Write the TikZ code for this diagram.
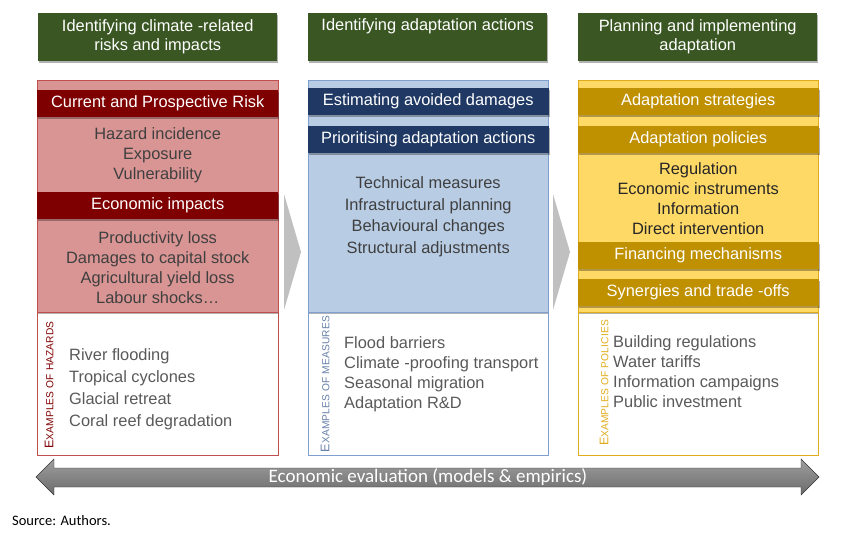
\documentclass[tikz,border=0pt]{standalone}
\usepackage{fontspec}
\setmainfont{Liberation Sans}
\newfontfamily\calfont{Carlito}
\usetikzlibrary{positioning,shadows}

\definecolor{headgreen}{HTML}{3A5723}
\definecolor{redfill}{HTML}{D99594}
\definecolor{redbar}{HTML}{7F0000}
\definecolor{redline}{HTML}{C0504D}
\definecolor{bluefill}{HTML}{B8CCE4}
\definecolor{bluebar}{HTML}{1F3864}
\definecolor{blueline}{HTML}{7F9FD0}
\definecolor{goldfill}{HTML}{FFD966}
\definecolor{goldbar}{HTML}{BF9000}
\definecolor{goldline}{HTML}{E0AC1C}
\definecolor{bodygray}{HTML}{3F3F3F}
\definecolor{examplegray}{HTML}{595959}
\definecolor{chevgray}{HTML}{C0C0C0}

\tikzset{
  soft/.style={drop shadow={shadow xshift=0.8pt, shadow yshift=-1.5pt, opacity=0.3, fill=black}},
  header/.style={fill=headgreen, text=white, minimum width=239pt, minimum height=48pt,
    inner sep=0pt, anchor=north west, align=center, font=\fontsize{16.4}{19}\selectfont, soft},
  bar/.style={text=white, minimum width=241pt, minimum height=27pt, inner sep=0pt,
    anchor=north west, font=\fontsize{16.4}{19}\selectfont, soft},
  body/.style={anchor=north, align=center, inner sep=0pt, text=bodygray},
  example/.style={anchor=north west, align=left, inner sep=0pt, text=examplegray},
  sidelabel/.style={rotate=90, inner sep=0pt}
}

\newcommand{\exlabel}[1]{\addfontfeature{LetterSpace=1.5}{\fontsize{12.5}{13}\selectfont E}{\fontsize{10.2}{13}\selectfont XAMPLES OF #1}}

\begin{document}
\begin{tikzpicture}[x=1pt,y=-1pt]

\useasboundingbox (0,0) rectangle (851,539);

\def \paneltop{80};
\def \panelmid{312};
\def \panelbot{455};

% headers
\node[header] (h1) at (38,13) {Identifying climate -related\\risks and impacts};
\node[header] (h2) at (308,13) {Identifying adaptation actions\\\strut};
\node[header] (h3) at (578,13) {Planning and implementing\\adaptation};

% chevrons
\fill[chevgray] (284,194) -- (301,252) -- (284,310) -- cycle;
\fill[chevgray] (553,194) -- (570,252) -- (553,310) -- cycle;

% risks
\draw[redline, fill=redfill, soft] (37,\paneltop) rectangle (278,\panelmid);
\draw[redline] (37,\paneltop) rectangle (278,\panelbot);
\node[bar, fill=redbar] (risk) at (37,90) {Current and Prospective Risk};
\node[body, font=\fontsize{16.4}{20}\selectfont, below=10pt of risk] (hazard)
  {Hazard incidence\\Exposure\\Vulnerability};
\node[bar, fill=redbar] (impacts) at (37,192) {Economic impacts};
\node[body, font=\fontsize{16.4}{20}\selectfont, below=12pt of impacts] (losses)
  {Productivity loss\\Damages to capital stock\\Agricultural yield loss\\Labour shocks\dots};
\node[sidelabel, text=redbar] (hazlabel) at (49,385) {\exlabel{HAZARDS}};
\node[example, font=\fontsize{16.4}{22}\selectfont] (hazards) at (69,348)
  {River flooding\\Tropical cyclones\\Glacial retreat\\Coral reef degradation};

% actions
\draw[blueline, fill=bluefill, soft] (308,\paneltop) rectangle (548,\panelmid);
\draw[blueline] (308,\paneltop) rectangle (548,\panelbot);
\node[bar, fill=bluebar] (avoided) at (307.5,88) {Estimating avoided damages};
\node[bar, fill=bluebar] (priority) at (307.5,126) {Prioritising adaptation actions};
\node[body, font=\fontsize{16.4}{21.7}\selectfont, below=23pt of priority] (actions)
  {Technical measures\\Infrastructural planning\\Behavioural changes\\Structural adjustments};
\node[sidelabel, text=blueline!80!black] (meslabel) at (325,384) {\exlabel{MEASURES}};
\node[example, font=\fontsize{16.4}{20}\selectfont] (measures) at (344,336)
  {Flood barriers\\Climate -proofing transport\\Seasonal migration\\Adaptation R\&D};

% implementing
\draw[goldline, fill=goldfill, soft] (578,\paneltop) rectangle (818,\panelmid);
\draw[goldline] (578,\paneltop) rectangle (818,\panelbot);
\node[bar, fill=goldbar] (strategies) at (577.5,88) {Adaptation strategies};
\node[bar, fill=goldbar] (policies) at (577.5,126) {Adaptation policies};
\node[body, text=black!85, font=\fontsize{16.4}{20}\selectfont, below=9pt of policies] (instruments)
  {Regulation\\Economic instruments\\Information\\Direct intervention};
\node[bar, fill=goldbar] (financing) at (577.5,242) {Financing mechanisms};
\node[bar, fill=goldbar] (synergies) at (577.5,279) {Synergies and trade -offs};
\node[sidelabel, text=goldline] (pollabel) at (604,383) {\exlabel{POLICIES}};
\node[example, font=\fontsize{16.4}{20}\selectfont] (examples) at (613,335)
  {Building regulations\\Water tariffs\\Information campaigns\\Public investment};

% evaluation arrow
\coordinate (L) at (36,477);
\coordinate (R) at (819,477);
\draw[draw=black!80, top color=black!38, bottom color=black!58]
  (L) -- (54,459) -- (54,468) -- (801,468) -- (801,459) -- (R)
  -- (801,495) -- (801,487) -- (54,487) -- (54,495) -- cycle;
\node[text=white, inner sep=0pt, font=\calfont\fontsize{19}{20}\selectfont] (evaluation)
  at (428,477) {Economic evaluation (models \& empirics)};

\node[anchor=west, inner sep=0pt, font=\calfont\fontsize{14.5}{16}\selectfont] (source)
  at (12,521) {Source: Authors.};

\end{tikzpicture}
\end{document}
